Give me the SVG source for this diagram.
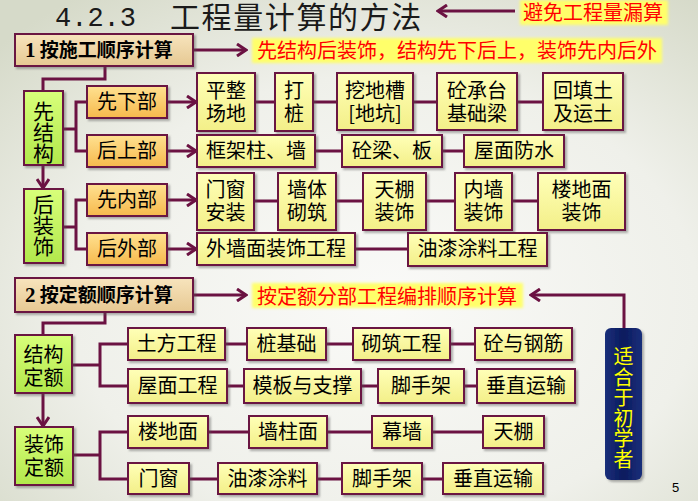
<svg xmlns="http://www.w3.org/2000/svg" width="698" height="501" viewBox="0 0 698 501">
<defs>
<radialGradient id="bg" cx="0.55" cy="0.6" r="0.75">
<stop offset="0" stop-color="#fafaf8"/><stop offset="0.6" stop-color="#eff0ea"/><stop offset="1" stop-color="#d6dac9"/>
</radialGradient>
<linearGradient id="gy" x1="0" y1="0" x2="0" y2="1"><stop offset="0" stop-color="#ffffb8"/><stop offset="1" stop-color="#f3ef88"/></linearGradient>
<linearGradient id="go" x1="0" y1="0" x2="0" y2="1"><stop offset="0" stop-color="#ffe191"/><stop offset="1" stop-color="#f6b94c"/></linearGradient>
<linearGradient id="gg" x1="0" y1="0" x2="0" y2="1"><stop offset="0" stop-color="#d8ff7a"/><stop offset="1" stop-color="#b2e84c"/></linearGradient>
<linearGradient id="gt" x1="0" y1="0" x2="0" y2="1"><stop offset="0" stop-color="#f7e4bd"/><stop offset="1" stop-color="#e6c892"/></linearGradient>
<linearGradient id="gn" x1="0" y1="0" x2="1" y2="0"><stop offset="0" stop-color="#1a2f7a"/><stop offset="0.5" stop-color="#0a1a5e"/><stop offset="1" stop-color="#1a2f7a"/></linearGradient>
<filter id="sh" x="-10%" y="-10%" width="130%" height="130%"><feDropShadow dx="2" dy="2" stdDeviation="1" flood-color="#555" flood-opacity="0.45"/></filter>
<filter id="gl" x="-5%" y="-20%" width="110%" height="140%"><feGaussianBlur stdDeviation="1.5"/></filter>
<marker id="arr" viewBox="0 0 12 14" refX="10" refY="7" markerWidth="12" markerHeight="14" markerUnits="userSpaceOnUse" orient="auto">
<path d="M1,1 L10,7 L1,13" fill="none" stroke="#6b1242" stroke-width="3"/>
</marker>
</defs>
<style>
.c{fill:none;stroke:#6b1242;stroke-width:3}
.a{marker-end:url(#arr)}
.y{fill:url(#gy);stroke:#6b1242;stroke-width:2;filter:url(#sh)}
.o{fill:url(#go);stroke:#6b1242;stroke-width:2;filter:url(#sh)}
.g{fill:url(#gg);stroke:#6b1242;stroke-width:2;filter:url(#sh)}
.t{fill:url(#gt);stroke:#6b1242;stroke-width:2;filter:url(#sh)}
.n{fill:url(#gn);filter:url(#sh)}
.hl{fill:#ffff6a;filter:url(#gl)}
text{font-family:"Noto Sans CJK SC","Noto Sans",sans-serif}
.b{font-size:20px;text-anchor:middle;fill:#000}
.v{font-size:21px;text-anchor:middle;fill:#000}
.h{font-size:19px;fill:#000;font-weight:bold}
.r{font-size:20px;fill:#ff0000}
.w{font-size:20px;text-anchor:middle;fill:#ffff00}
</style>
<rect width="698" height="501" fill="url(#bg)"/>

<!-- title -->
<g id="title">
<text x="55" y="26" font-size="27" fill="#1a1a1a" style="font-family:'Liberation Mono',monospace">4.2.3</text>
<text x="170" y="28" font-size="30" letter-spacing="1.6" fill="#1a1a1a">工程量计算的方法</text>
</g>
<g id="note_top">
<rect class="hl" x="520" y="0" width="148" height="25"/>
<text class="r" x="523" y="20">避免工程量漏算</text>
</g>
<g id="note1">
<rect class="hl" x="252" y="38" width="410" height="25"/>
<text class="r" x="257" y="58">先结构后装饰，结构先下后上，装饰先内后外</text>
</g>
<g id="note2">
<rect class="hl" x="252" y="283" width="271" height="25"/>
<text class="r" x="257" y="304">按定额分部工程编排顺序计算</text>
</g>

<!-- connectors -->
<g id="connectors">
<path class="c a" d="M515,11 H438"/>
<path class="c a" d="M193,50 H246"/>
<path class="c" d="M105,66 V79 H43 V91"/>
<path class="c a" d="M43,165 V188"/>
<path class="c" d="M63,129 H76 M87,102 H76 V151 H87"/>
<path class="c a" d="M167,102 H196"/>
<path class="c a" d="M167,151 H196"/>
<path class="c a" d="M167,200 H196"/>
<path class="c a" d="M167,249 H196"/>
<path class="c" d="M255,102 H275 M313,102 H337 M413,102 H437 M517,102 H543"/>
<path class="c" d="M315,151 H342 M442,151 H464"/>
<path class="c" d="M254,201 H278 M336,201 H363 M426,201 H455 M512,201 H538"/>
<path class="c" d="M355,249 H408"/>
<path class="c" d="M63,227 H76 M87,200 H76 V249 H87"/>
<path class="c a" d="M193,295 H246"/>
<path class="c" d="M105,312 V323 H43 V335"/>
<path class="c a" d="M43,393 V426"/>
<path class="c" d="M72,365 H100 M128,344 H100 V386 H128"/>
<path class="c" d="M225,344 H247 M326,344 H353 M450,344 H475"/>
<path class="c" d="M227,386 H244 M361,386 H378 M464,386 H477"/>
<path class="c" d="M73,455 H100 M128,432 H100 V479 H128"/>
<path class="c" d="M208,432 H249 M327,432 H372 M432,432 H483"/>
<path class="c" d="M189,479 H218 M317,479 H342 M422,479 H443"/>
<path class="c a" d="M624,328 V295 H531"/>
</g>

<!-- section 1 -->
<g id="s1"><rect class="t" x="15" y="34" width="178" height="32"/><text class="h" x="25" y="57"><tspan style="font-family:'Liberation Serif',serif" font-size="21">1</tspan> 按施工顺序计算</text></g>
<g id="xjg"><rect class="g" x="24" y="91" width="39" height="74"/><text class="v"><tspan x="43.5" y="119">先</tspan><tspan x="43.5" y="140">结</tspan><tspan x="43.5" y="161">构</tspan></text></g>
<g id="hzs"><rect class="g" x="24" y="189" width="39" height="74"/><text class="v"><tspan x="43.5" y="212">后</tspan><tspan x="43.5" y="233">装</tspan><tspan x="43.5" y="254">饰</tspan></text></g>
<g id="xxb"><rect class="o" x="87" y="86" width="80" height="32"/><text class="b" x="127" y="109">先下部</text></g>
<g id="hsb"><rect class="o" x="87" y="135" width="80" height="32"/><text class="b" x="127" y="158">后上部</text></g>
<g id="xnb"><rect class="o" x="87" y="184" width="80" height="32"/><text class="b" x="127" y="207">先内部</text></g>
<g id="hwb"><rect class="o" x="87" y="233" width="80" height="32"/><text class="b" x="127" y="256">后外部</text></g>

<g id="pzcd"><rect class="y" x="197" y="73" width="58" height="58"/><text class="b"><tspan x="226" y="98">平整</tspan><tspan x="226" y="121">场地</tspan></text></g>
<g id="dz"><rect class="y" x="275" y="73" width="38" height="58"/><text class="b"><tspan x="294" y="98">打</tspan><tspan x="294" y="121">桩</tspan></text></g>
<g id="wdc"><rect class="y" x="337" y="73" width="76" height="57"/><text class="b"><tspan x="375" y="98">挖地槽</tspan><tspan x="375" y="121">[地坑]</tspan></text></g>
<g id="tct"><rect class="y" x="437" y="73" width="80" height="57"/><text class="b"><tspan x="477" y="98">砼承台</tspan><tspan x="477" y="121">基础梁</tspan></text></g>
<g id="htt"><rect class="y" x="543" y="73" width="80" height="57"/><text class="b"><tspan x="583" y="98">回填土</tspan><tspan x="583" y="121">及运土</tspan></text></g>
<g id="kjz"><rect class="y" x="197" y="135" width="118" height="32"/><text class="b" x="256" y="158">框架柱、墙</text></g>
<g id="tlb"><rect class="y" x="342" y="135" width="100" height="32"/><text class="b" x="392" y="158">砼梁、板</text></g>
<g id="wmfs"><rect class="y" x="464" y="135" width="100" height="32"/><text class="b" x="514" y="158">屋面防水</text></g>
<g id="mcaz"><rect class="y" x="197" y="173" width="57" height="57"/><text class="b"><tspan x="225.5" y="197">门窗</tspan><tspan x="225.5" y="220">安装</tspan></text></g>
<g id="qtqz"><rect class="y" x="278" y="173" width="58" height="57"/><text class="b"><tspan x="307" y="197">墙体</tspan><tspan x="307" y="220">砌筑</tspan></text></g>
<g id="tpzs"><rect class="y" x="363" y="173" width="63" height="57"/><text class="b"><tspan x="394.5" y="197">天棚</tspan><tspan x="394.5" y="220">装饰</tspan></text></g>
<g id="nqzs"><rect class="y" x="455" y="173" width="57" height="57"/><text class="b"><tspan x="483.5" y="197">内墙</tspan><tspan x="483.5" y="220">装饰</tspan></text></g>
<g id="ldmzs"><rect class="y" x="538" y="173" width="87" height="57"/><text class="b"><tspan x="581.5" y="197">楼地面</tspan><tspan x="581.5" y="220">装饰</tspan></text></g>
<g id="wqm"><rect class="y" x="197" y="233" width="158" height="32"/><text class="b" x="276" y="256">外墙面装饰工程</text></g>
<g id="yqtl1"><rect class="y" x="408" y="233" width="139" height="33"/><text class="b" x="477.5" y="256">油漆涂料工程</text></g>

<!-- section 2 -->
<g id="s2"><rect class="t" x="15" y="278" width="178" height="34"/><text class="h" x="25" y="302"><tspan style="font-family:'Liberation Serif',serif" font-size="21">2</tspan> 按定额顺序计算</text></g>
<g id="jgde"><rect class="g" x="15" y="335" width="57" height="58"/><text class="b"><tspan x="43.5" y="362">结构</tspan><tspan x="43.5" y="385">定额</tspan></text></g>
<g id="zsde"><rect class="g" x="15" y="427" width="58" height="58"/><text class="b"><tspan x="44" y="452">装饰</tspan><tspan x="44" y="475">定额</tspan></text></g>

<g id="tfgc"><rect class="y" x="128" y="328" width="97" height="32"/><text class="b" x="176.5" y="351">土方工程</text></g>
<g id="zjc"><rect class="y" x="247" y="328" width="79" height="32"/><text class="b" x="286.5" y="351">桩基础</text></g>
<g id="qzgc"><rect class="y" x="353" y="328" width="97" height="32"/><text class="b" x="401.5" y="351">砌筑工程</text></g>
<g id="tygj"><rect class="y" x="475" y="328" width="97" height="32"/><text class="b" x="523.5" y="351">砼与钢筋</text></g>

<g id="wmgc"><rect class="y" x="128" y="369" width="99" height="34"/><text class="b" x="177.5" y="393">屋面工程</text></g>
<g id="mbyzc"><rect class="y" x="244" y="369" width="117" height="34"/><text class="b" x="302.5" y="393">模板与支撑</text></g>
<g id="jsj1"><rect class="y" x="378" y="369" width="86" height="34"/><text class="b" x="421" y="393">脚手架</text></g>
<g id="czys1"><rect class="y" x="477" y="369" width="98" height="34"/><text class="b" x="526" y="393">垂直运输</text></g>

<g id="ldm"><rect class="y" x="128" y="416" width="80" height="32"/><text class="b" x="168" y="439">楼地面</text></g>
<g id="qzm"><rect class="y" x="249" y="416" width="78" height="32"/><text class="b" x="288" y="439">墙柱面</text></g>
<g id="mq"><rect class="y" x="372" y="416" width="60" height="32"/><text class="b" x="402" y="439">幕墙</text></g>
<g id="tp"><rect class="y" x="483" y="416" width="61" height="32"/><text class="b" x="513.5" y="439">天棚</text></g>

<g id="mc"><rect class="y" x="128" y="463" width="61" height="31"/><text class="b" x="158.5" y="486">门窗</text></g>
<g id="yqtl2"><rect class="y" x="218" y="463" width="99" height="31"/><text class="b" x="267.5" y="486">油漆涂料</text></g>
<g id="jsj2"><rect class="y" x="342" y="463" width="80" height="31"/><text class="b" x="382" y="486">脚手架</text></g>
<g id="czys2"><rect class="y" x="443" y="463" width="100" height="31"/><text class="b" x="493" y="486">垂直运输</text></g>

<g id="shcxz"><rect class="n" x="605" y="328" width="37" height="152" rx="6"/>
<text class="w"><tspan x="623.5" y="364">适</tspan><tspan x="623.5" y="384.6">合</tspan><tspan x="623.5" y="405.2">于</tspan><tspan x="623.5" y="425.8">初</tspan><tspan x="623.5" y="446.4">学</tspan><tspan x="623.5" y="467">者</tspan></text></g>

<text x="672" y="492" font-size="13" fill="#000" style="font-family:'Liberation Sans',sans-serif">5</text>
</svg>
